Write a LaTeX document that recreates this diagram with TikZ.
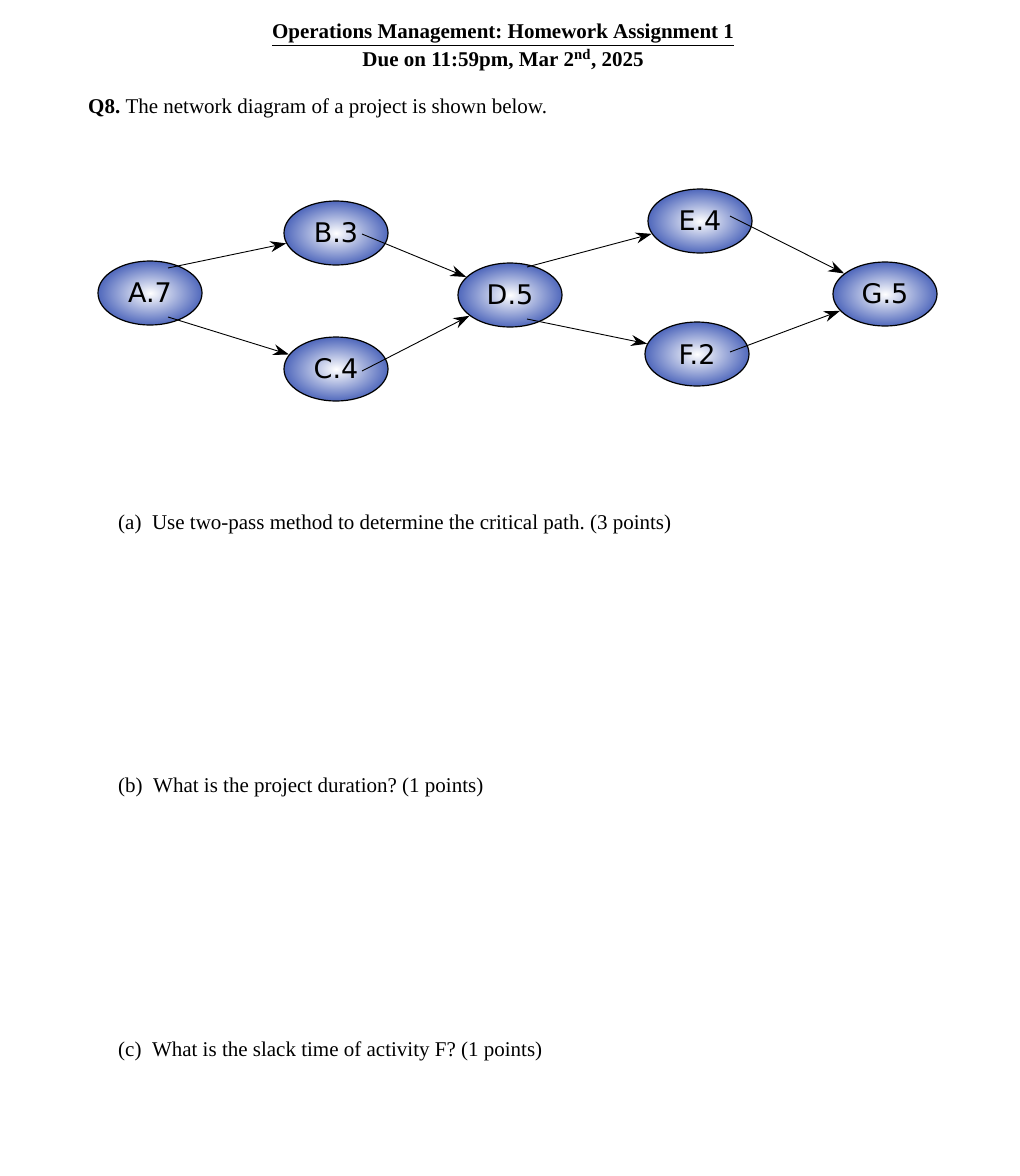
\documentclass[tikz,border=0pt]{standalone}
\usepackage{fontspec}
\setmainfont{Liberation Serif}
\newfontfamily\nodefont{DejaVu Sans}
\usetikzlibrary{shapes.geometric,arrows.meta}
\frenchspacing
\begin{document}
\begin{tikzpicture}[x=1pt,y=-1pt,
  act/.style={ellipse,draw,line width=1.2pt,minimum width=104pt,minimum height=64pt,inner sep=0pt,
    inner color=white,outer color={rgb,255:red,80;green,104;blue,188},font=\nodefont\fontsize{27}{27}\selectfont},
  con/.style={-{Stealth[length=16pt,width=11pt]},line width=0.9pt},
  txt/.style={anchor=west,font=\fontsize{21}{24}\selectfont,inner sep=0pt}]
\useasboundingbox (0,0) rectangle (1020,1176);
\node[act] (A) at (150,293) {A.7};
\node[act] (B) at (336,233) {B.3};
\node[act] (C) at (336,369) {C.4};
\node[act] (D) at (510,295) {D.5};
\node[act] (E) at (700,221) {E.4};
\node[act] (F) at (697,354) {F.2};
\node[act] (G) at (885,294) {G.5};
\draw[con] ([shift={(18,-25)}]A.center) -- (B);
\draw[con] ([shift={(18,24)}]A.center) -- (C);
\draw[con] ([shift={(26,1)}]B.center) -- (D);
\draw[con] ([shift={(26,2)}]C.center) -- (D);
\draw[con] ([shift={(17,-28)}]D.center) -- (E);
\draw[con] ([shift={(17,24)}]D.center) -- (F);
\draw[con] ([shift={(30,-5)}]E.center) -- (G);
\draw[con] ([shift={(33,-2)}]F.center) -- (G);
\node[font=\bfseries\fontsize{21}{24}\selectfont,inner sep=0pt] (t1) at (503,35) {\underline{Operations Management: Homework Assignment 1}};
\node[font=\bfseries\fontsize{21}{24}\selectfont,inner sep=0pt] (t2) at (503,60) {Due on 11:59pm, Mar 2\textsuperscript{nd}, 2025};
\node[txt] (q) at (88,108) {\textbf{Q8.} The network diagram of a project is shown below.};
\node[txt] (a) at (118,524) {(a)\enspace Use two-pass method to determine the critical path. (3 points)};
\node[txt] (b) at (118,787) {(b)\enspace What is the project duration? (1 points)};
\node[txt] (c) at (118,1051) {(c)\enspace What is the slack time of activity F? (1 points)};
\end{tikzpicture}
\end{document}
